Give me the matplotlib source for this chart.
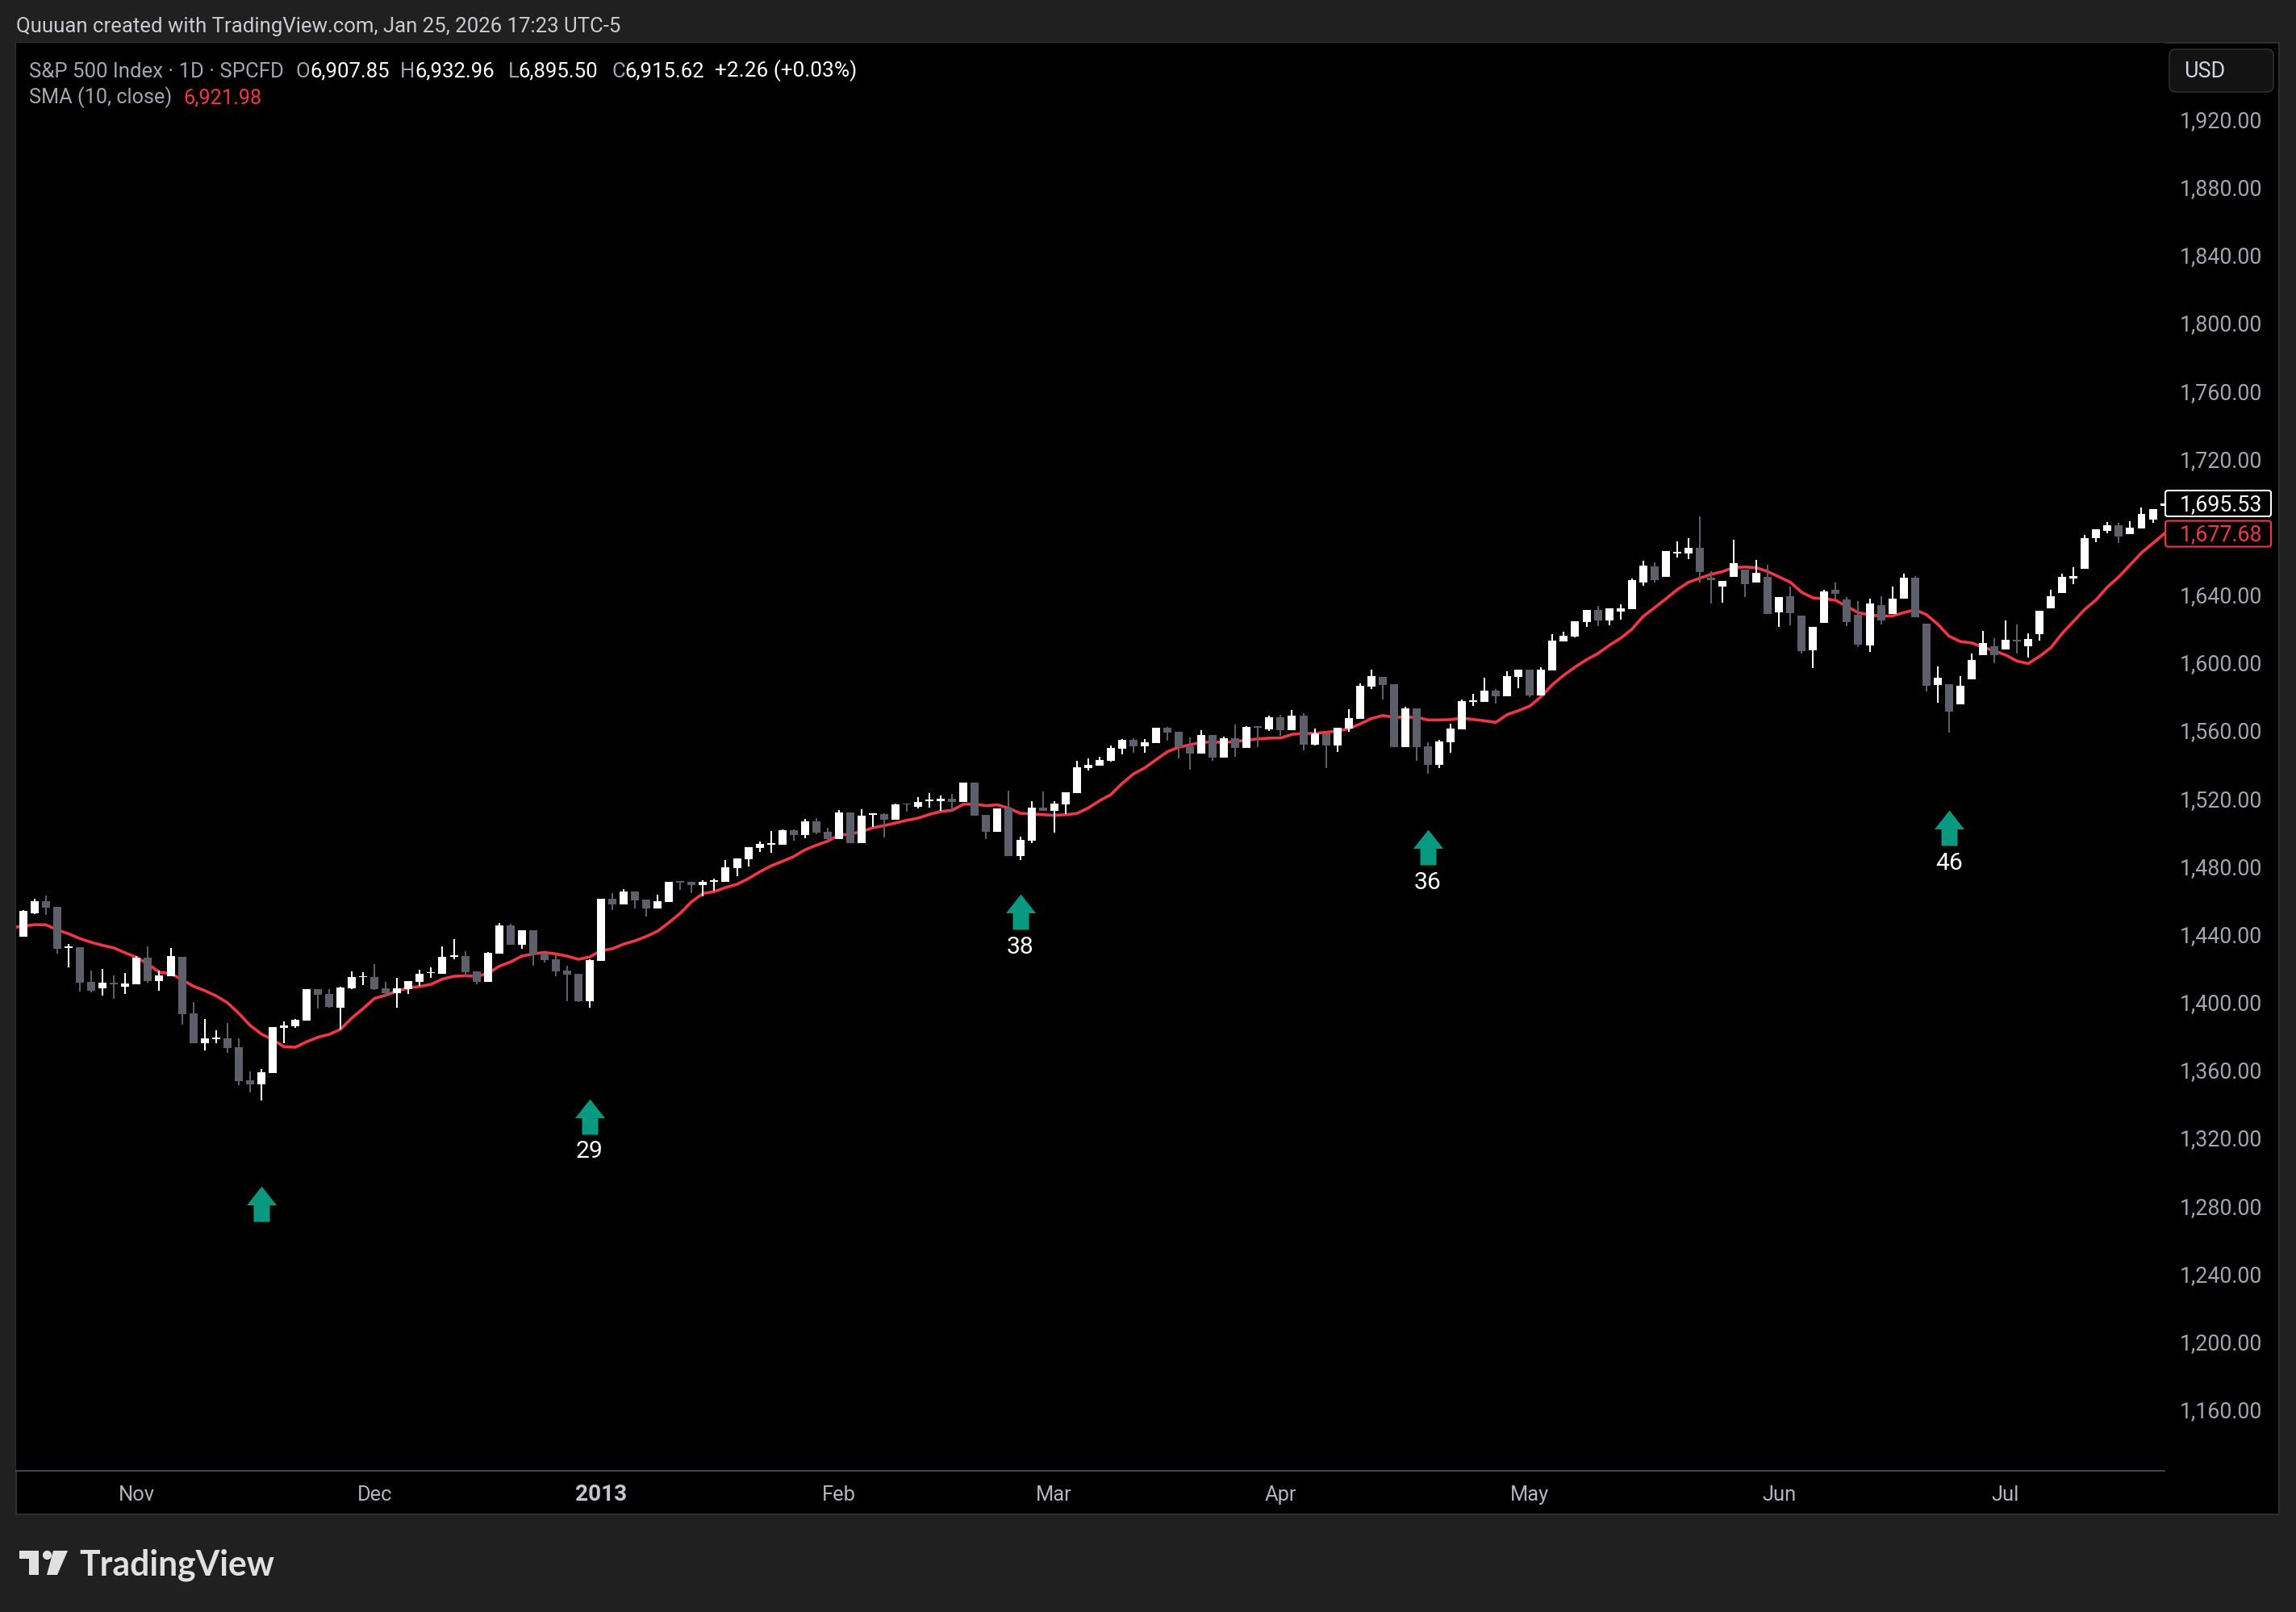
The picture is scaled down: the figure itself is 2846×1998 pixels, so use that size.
import numpy as np
import matplotlib
matplotlib.use("Agg")
import matplotlib.pyplot as plt
from matplotlib.patches import FancyBboxPatch, Polygon, Circle, Rectangle
from matplotlib.path import Path
from matplotlib.transforms import ScaledTranslation

plt.rcParams['font.family'] = ['Roboto', 'DejaVu Sans']

# Daily S&P 500 bars, Oct 2012 to Jul 2013
opens = [
    1440.5,1454.1,1461.2,1457.9,1433.7,1434.1,1413.7,1409.9,1413.1,1411.0,
    1412.4,1427.9,1414.2,1417.2,1428.4,1395.2,1377.6,1380.1,1380.4,1375.2,
    1355.7,1353.3,1360.0,1386.6,1387.6,1390.9,1409.4,1406.6,1398.5,1409.9,
    1416.4,1416.5,1409.9,1407.0,1409.4,1413.7,1418.8,1418.4,1428.4,1428.9,
    1419.9,1413.7,1430.3,1447.0,1435.5,1444.1,1430.3,1427.0,1420.3,1418.4,
    1402.3,1426.0,1462.6,1459.3,1466.9,1462.2,1456.9,1460.7,1473.1,1472.6,
    1470.7,1472.8,1472.6,1480.7,1486.0,1492.6,1494.7,1494.5,1503.0,1500.2,
    1508.3,1502.1,1497.8,1513.5,1495.5,1512.2,1512.6,1509.2,1518.7,1516.8,
    1520.3,1520.2,1521.6,1519.7,1531.1,1512.1,1502.1,1515.9,1487.9,1496.9,
    1516.4,1514.5,1518.3,1524.9,1539.7,1541.1,1543.9,1551.1,1556.3,1552.5,
    1554.4,1563.4,1561.1,1552.5,1548.2,1559.2,1545.9,1557.3,1551.6,1564.2,
    1562.5,1569.6,1562.0,1570.6,1553.5,1560.1,1553.0,1563.0,1568.7,1587.7,
    1593.4,1589.1,1552.0,1574.8,1552.5,1541.5,1554.8,1562.4,1578.6,1578.6,
    1585.3,1581.9,1593.3,1597.6,1582.4,1597.1,1614.2,1617.1,1625.6,1632.8,
    1626.6,1631.8,1633.3,1649.0,1658.4,1652.3,1666.2,1666.0,1669.4,1651.6,
    1646.6,1652.3,1656.5,1649.0,1652.3,1631.3,1640.9,1629.4,1609.0,1625.2,
    1644.7,1638.9,1629.9,1611.9,1635.6,1630.4,1639.4,1651.8,1624.7,1588.6,
    1589.1,1577.2,1591.9,1606.2,1611.4,1609.5,1615.2,1611.4,1618.5,1633.7,
    1642.7,1651.5,1657.0,1675.1,1679.3,1682.7,1677.4,1680.8,1686.0,1694.1,
]
highs = [
    1456.0,1462.6,1464.5,1457.9,1436.0,1434.1,1420.3,1421.3,1417.5,1418.9,
    1428.7,1434.6,1420.3,1433.7,1428.4,1401.8,1391.8,1385.2,1389.5,1380.4,
    1361.0,1362.4,1387.1,1390.4,1391.8,1409.4,1409.4,1409.4,1410.8,1419.9,
    1419.4,1424.1,1413.7,1416.1,1414.2,1420.8,1422.2,1434.6,1438.9,1431.7,
    1419.9,1431.3,1448.4,1447.9,1444.1,1444.1,1430.3,1429.8,1423.2,1418.4,
    1427.0,1462.6,1466.0,1468.3,1466.9,1462.2,1465.0,1472.6,1473.1,1472.6,
    1473.6,1474.5,1485.4,1486.4,1493.1,1496.4,1502.6,1503.5,1503.5,1509.7,
    1510.2,1504.5,1514.9,1513.5,1515.4,1513.0,1513.0,1518.7,1518.7,1522.5,
    1524.9,1523.5,1524.4,1531.1,1531.1,1512.1,1515.9,1526.3,1499.2,1520.2,
    1525.9,1520.2,1525.4,1543.9,1545.4,1546.3,1553.0,1556.8,1557.3,1556.8,
    1563.4,1563.9,1561.1,1557.7,1562.0,1559.2,1558.2,1565.3,1564.4,1564.2,
    1570.6,1571.0,1573.9,1572.0,1563.0,1560.1,1563.4,1574.4,1589.6,1597.7,
    1593.4,1589.1,1575.8,1574.8,1554.9,1556.3,1565.8,1580.0,1583.4,1592.9,
    1586.2,1596.7,1597.6,1597.6,1599.0,1618.5,1619.9,1626.1,1632.8,1635.2,
    1633.7,1636.1,1651.3,1661.8,1660.8,1667.5,1673.2,1675.1,1687.9,1655.6,
    1649.9,1674.1,1656.5,1662.2,1659.4,1640.4,1646.6,1629.4,1622.8,1644.7,
    1648.9,1640.4,1638.0,1639.4,1640.9,1646.6,1654.2,1652.7,1624.7,1599.5,
    1589.1,1593.8,1607.1,1620.4,1616.1,1626.6,1624.2,1619.0,1632.3,1644.7,
    1654.2,1657.9,1677.0,1680.3,1684.6,1684.1,1685.0,1693.1,1692.2,1695.53,
]
lows = [
    1440.5,1453.6,1453.1,1430.3,1422.3,1408.0,1407.5,1405.6,1403.7,1406.6,
    1412.4,1413.2,1408.5,1417.2,1388.5,1377.7,1373.3,1377.6,1371.9,1352.9,
    1348.6,1343.8,1360.0,1377.6,1386.6,1390.9,1398.0,1398.5,1385.7,1409.4,
    1411.8,1408.9,1404.7,1398.5,1406.6,1411.3,1416.1,1418.4,1427.0,1416.5,
    1412.3,1413.7,1430.3,1435.5,1433.2,1423.2,1425.1,1417.0,1402.3,1401.8,
    1398.5,1426.0,1456.0,1459.3,1456.9,1452.2,1456.9,1460.7,1467.9,1466.0,
    1464.1,1467.4,1472.6,1476.0,1481.7,1490.2,1489.8,1494.5,1496.9,1498.3,
    1500.7,1496.9,1497.8,1495.5,1495.5,1505.0,1498.8,1509.2,1514.0,1515.9,
    1516.4,1514.5,1514.5,1519.7,1511.6,1497.8,1502.1,1487.9,1485.5,1495.5,
    1514.5,1501.6,1512.6,1524.9,1538.3,1541.1,1543.5,1547.8,1548.7,1548.7,
    1554.4,1555.8,1545.4,1538.7,1548.2,1543.9,1545.9,1546.3,1551.6,1552.0,
    1561.5,1558.7,1562.0,1550.1,1553.0,1539.7,1549.2,1561.1,1568.7,1586.2,
    1580.1,1552.0,1552.0,1543.9,1536.3,1539.6,1548.7,1562.4,1576.2,1578.6,
    1577.7,1581.9,1586.7,1581.5,1582.4,1597.1,1614.2,1616.6,1622.8,1623.3,
    1623.8,1627.1,1633.3,1647.0,1649.0,1652.3,1663.7,1662.7,1649.0,1636.6,
    1637.0,1652.3,1640.4,1649.0,1630.4,1622.8,1623.7,1607.1,1598.6,1625.2,
    1639.4,1623.3,1610.9,1608.1,1624.2,1630.4,1639.4,1628.5,1584.8,1578.1,
    1560.5,1577.2,1591.9,1606.2,1601.4,1609.5,1607.1,1604.7,1614.7,1633.7,
    1642.7,1648.0,1657.0,1672.7,1677.9,1672.2,1677.4,1680.8,1684.1,1694.1,
]
closes = [
    1455.5,1461.2,1457.6,1433.3,1434.4,1413.4,1408.6,1413.2,1412.1,1412.7,
    1427.9,1414.2,1417.5,1428.9,1394.8,1377.7,1380.4,1380.7,1374.7,1355.2,
    1353.3,1360.5,1387.1,1388.0,1391.4,1409.4,1406.1,1399.0,1410.4,1416.5,
    1417.0,1409.4,1407.0,1409.9,1414.2,1418.4,1419.4,1428.4,1429.4,1419.4,
    1413.7,1430.8,1447.0,1435.5,1444.1,1429.8,1426.5,1419.9,1418.0,1402.3,
    1426.5,1462.6,1459.3,1466.9,1461.7,1456.9,1461.2,1472.6,1472.3,1470.7,
    1472.6,1473.6,1481.2,1486.4,1493.1,1495.0,1495.5,1503.0,1500.2,1508.3,
    1501.6,1497.8,1513.5,1495.5,1511.6,1513.0,1509.2,1518.3,1518.1,1519.7,
    1521.1,1521.6,1519.7,1531.1,1511.6,1502.1,1515.9,1487.9,1497.4,1516.4,
    1514.5,1518.7,1525.4,1540.1,1541.6,1544.4,1551.6,1556.3,1552.5,1554.9,
    1563.4,1560.6,1552.0,1548.2,1559.2,1545.9,1557.3,1551.6,1563.9,1563.6,
    1569.6,1562.0,1570.6,1553.5,1560.1,1553.0,1563.4,1569.1,1588.1,1593.9,
    1588.6,1552.0,1574.8,1552.0,1541.6,1555.3,1562.9,1579.1,1579.4,1585.3,
    1581.9,1593.8,1597.6,1582.4,1597.6,1614.7,1617.6,1626.1,1632.8,1626.6,
    1633.7,1633.7,1650.4,1658.9,1650.4,1667.5,1667.0,1669.4,1655.1,1650.5,
    1649.9,1660.3,1648.0,1654.6,1630.4,1640.4,1630.9,1608.5,1622.8,1643.7,
    1642.3,1625.6,1612.3,1636.6,1626.6,1639.4,1651.8,1628.5,1588.1,1592.9,
    1572.9,1588.1,1603.3,1613.3,1606.2,1615.2,1614.4,1615.7,1632.3,1640.9,
    1652.3,1652.7,1675.1,1680.3,1682.7,1676.0,1681.2,1689.3,1692.2,1695.53,
]
# SMA(10) of the close; the first entry belongs to the bar just left of the pane
sma_values = [
    1445.7,
    1446.6,1447.4,1447.3,1444.3,1442.0,1439.2,1437.0,1435.2,1433.7,1430.8,
    1428.1,1424.2,1419.4,1418.6,1415.1,1411.2,1408.6,1405.5,1401.5,1395.3,
    1388.2,1383.0,1379.8,1375.5,1375.2,1378.4,1381.1,1382.8,1385.8,1392.5,
    1398.0,1404.0,1405.9,1408.3,1410.2,1411.0,1412.3,1415.4,1417.0,1417.3,
    1417.0,1418.6,1422.9,1425.4,1428.9,1430.2,1431.1,1430.2,1428.9,1427.0,
    1428.4,1432.1,1433.2,1436.0,1437.9,1440.5,1443.6,1448.7,1454.2,1461.0,
    1465.8,1466.9,1469.3,1471.2,1474.5,1478.5,1482.0,1484.7,1487.5,1491.5,
    1494.2,1496.6,1500.2,1500.7,1502.3,1504.5,1505.8,1507.3,1508.9,1510.2,
    1512.4,1514.1,1514.8,1518.4,1518.4,1517.5,1518.0,1516.0,1513.0,1512.7,
    1512.2,1511.8,1512.2,1512.9,1516.1,1520.4,1524.0,1530.6,1536.2,1539.8,
    1544.6,1549.3,1552.0,1553.3,1554.9,1554.9,1554.9,1555.2,1556.2,1556.8,
    1557.3,1557.4,1559.5,1560.1,1560.1,1560.7,1561.5,1562.8,1565.6,1568.8,
    1570.6,1569.6,1569.6,1569.6,1568.0,1568.0,1568.2,1569.1,1568.3,1567.5,
    1566.6,1571.2,1573.5,1576.2,1581.8,1588.9,1594.4,1599.2,1603.5,1607.1,
    1611.9,1616.1,1621.4,1629.0,1634.1,1639.3,1644.7,1649.1,1651.5,1653.8,
    1655.4,1657.8,1658.1,1657.7,1655.4,1652.3,1649.1,1643.2,1639.9,1639.4,
    1638.5,1634.8,1631.2,1629.9,1629.1,1629.3,1631.2,1632.9,1630.1,1624.5,
    1617.4,1614.2,1613.4,1610.9,1608.7,1606.3,1602.7,1601.2,1605.5,1610.6,
    1619.0,1626.1,1633.2,1638.8,1646.4,1652.3,1659.4,1666.5,1672.1,1677.68,
]

# Buy signals: bar number, price at the arrow tip, count printed below
signal_bars = [21, 50, 88, 124, 170]
signal_tips = [1293.4, 1344.8, 1465.5, 1503.5, 1514.9]
signal_labels = ["", "29", "38", "36", "46"]

price_ticks = [1920, 1880, 1840, 1800, 1760, 1720, 1640, 1600, 1560, 1520,
               1480, 1440, 1400, 1360, 1320, 1280, 1240, 1200, 1160]
date_bars = [10, 31, 51, 72, 91, 111, 133, 155, 175]
date_labels = ["Nov", "Dec", "2013", "Feb", "Mar", "Apr", "May", "Jun", "Jul"]

WIDTH, HEIGHT, DPI = 2846, 1998, 100
PAGE = "#202020"
EDGE = "#2e2e2e"
WHITE = "#ffffff"
GREY = "#5d606b"
RED = "#f23645"
TEAL = "#089981"


def fpx(px):
    """Font size in points for a size given in pixels."""
    return px * 72.0 / DPI


def pixel_axes(zorder):
    """Full-figure axes measured in pixels, origin at the top left."""
    a = fig.add_axes([0, 0, 1, 1], zorder=zorder)
    a.set_xlim(0, WIDTH)
    a.set_ylim(HEIGHT, 0)
    a.axis("off")
    return a


fig = plt.figure(figsize=(WIDTH / DPI, HEIGHT / DPI), dpi=DPI, facecolor=PAGE)

page = pixel_axes(0)
overlay = pixel_axes(2)
page.add_patch(Rectangle((20, 53), 2805, 1824, facecolor="black", edgecolor=EDGE, linewidth=1.6))


def label(x, baseline, text, color, size=25.7, target=overlay, **kw):
    return target.text(x, baseline, text, color=color, fontsize=fpx(size), va="baseline", **kw)


label(20, 40, "Quuuan created with TradingView.com, Jan 25, 2026 17:23 UTC-5", "#c9cbd0")

# Symbol and indicator legend in the top-left of the pane
MUTED = "#a3a6af"
LEGEND_BASE = 95.5
label(36.5, LEGEND_BASE, "S&P 500 Index · 1D · SPCFD", MUTED)
for x, text in zip([367, 496, 630, 758], "OHLC"):
    label(x, LEGEND_BASE, text, MUTED)
for x, text in zip([384, 514, 642, 774], ["6,907.85", "6,932.96", "6,895.50", "6,915.62"]):
    label(x, LEGEND_BASE, text, WHITE)
label(886, LEGEND_BASE, "+2.26 (+0.03%)", WHITE, size=26.2)
label(36.5, 128, "SMA (10, close)", MUTED, size=25.2)
label(227, 128, "6,921.98", RED, size=25.2)

# Currency button at the top of the price scale
page.add_patch(FancyBboxPatch((2689, 61), 129, 53, boxstyle="round,pad=0,rounding_size=8",
                              facecolor="#131313", edgecolor="#2e2e2e", linewidth=1.2))
label(2707, 96.5, "USD", "#d1d4dc", size=27)

# TradingView logo mark
LOGO = "#e0e0e0"
page.add_patch(Polygon([(24, 1922), (48, 1922), (48, 1952), (36, 1952), (36, 1932), (24, 1932)],
                       closed=True, facecolor=LOGO, edgecolor="none"))
page.add_patch(Circle((58.5, 1927.5), 5.6, facecolor=LOGO, edgecolor="none"))
page.add_patch(Polygon([(66, 1922), (84, 1922), (71, 1952), (58, 1952)],
                       closed=True, facecolor=LOGO, edgecolor="none"))
page.text(98, 1952, "TradingView", color=LOGO, fontsize=fpx(42.6), va="baseline",
          family="Lato", fontweight="bold")

# Main price pane
PANE_L, PANE_R, PANE_T, PANE_B = 20, 2683, 53, 1823
ax = fig.add_axes([PANE_L / WIDTH, 1 - PANE_B / HEIGHT,
                   (PANE_R - PANE_L) / WIDTH, (PANE_B - PANE_T) / HEIGHT], zorder=1)
ax.set_facecolor("black")
ax.set_xlim(-0.641, 189.03)
ax.set_ylim(1125.7, 1966.9)
for side in ("top", "left", "right"):
    ax.spines[side].set_visible(False)
ax.spines["bottom"].set_color("#434651")
ax.spines["bottom"].set_linewidth(1.4)

bars = np.arange(len(closes))
o, h, l, c = map(np.array, (opens, highs, lows, closes))
rising = c >= o
colors = np.where(rising, WHITE, GREY)

ax.plot(np.arange(-1, len(closes)), sma_values, color=RED, linewidth=2.6, zorder=2,
        solid_joinstyle="round")
ax.vlines(bars, l, h, colors=colors, linewidth=1.44, zorder=3, capstyle="butt", antialiased=False)
ax.bar(bars, np.abs(c - o), bottom=np.minimum(o, c), width=0.712, color=colors, linewidth=0,
       zorder=4, antialiased=False)

# Arrow markers are anchored at the tip, drawn in pixels relative to it
arrow_px = np.array([(0, 0), (18.5, -23.5), (10, -23.5), (10, -44), (-10, -44),
                     (-10, -23.5), (-18.5, -23.5), (0, 0)], dtype=float)
arrow = Path(arrow_px, closed=True)
ax.plot(signal_bars, signal_tips, linestyle="none", marker=arrow, markersize=44 * 2 * 0.72,
        markerfacecolor=TEAL, markeredgewidth=0, zorder=5)
for bar, tip, text in zip(signal_bars, signal_tips, signal_labels):
    if text:
        ax.annotate(text, (bar, tip), xytext=(0, -73.5 * 0.72), textcoords="offset points",
                    ha="center", va="baseline", color=WHITE, fontsize=fpx(30))

# Axis labels
ax.yaxis.tick_right()
ax.set_yticks(price_ticks)
ax.set_yticklabels([f"{v:,.2f}" for v in price_ticks])
ax.set_xticks(date_bars)
ax.set_xticklabels(date_labels)
ax.tick_params(axis="y", length=0, pad=19 * 0.72, labelsize=fpx(26.8), labelcolor="#a3a6af")
ax.tick_params(axis="x", length=0, pad=0, labelsize=fpx(25.5), labelcolor="#b2b5be")
for tick in ax.get_yticklabels():
    tick.set_va("baseline")
    tick.set_transform(tick.get_transform() + ScaledTranslation(0, -6.3 / DPI, fig.dpi_scale_trans))
for tick in ax.get_xticklabels():
    tick.set_va("baseline")
    tick.set_transform(tick.get_transform() + ScaledTranslation(0, -37 / DPI, fig.dpi_scale_trans))
    if tick.get_text() == "2013":
        tick.set_fontweight("bold")
        tick.set_fontsize(fpx(28))
        tick.set_color("#c4c7d0")

# Last-value tags on the price scale
last_tags = [(closes[-1], WHITE), (sma_values[-1], RED)]
for value, edge in last_tags:
    y = HEIGHT - ax.transData.transform((0, value))[1]
    page.add_patch(FancyBboxPatch((2684, y - 16), 131, 32, boxstyle="round,pad=0,rounding_size=3",
                                  facecolor="black", edgecolor=edge, linewidth=1.5, zorder=3))
    label(2702, y + 8.6, f"{value:,.2f}", edge, size=26.8, zorder=4)

fig.savefig("out.png", dpi=DPI, facecolor=PAGE)
